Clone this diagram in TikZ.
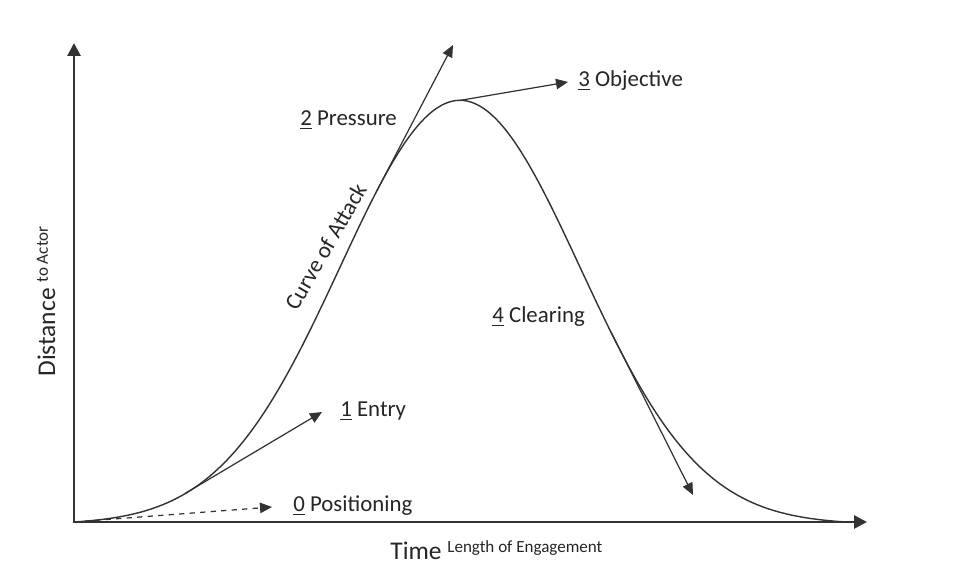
\documentclass[tikz,border=0pt]{standalone}
\usepackage{fontspec}
\setmainfont{Carlito}
\usetikzlibrary{arrows.meta}
\begin{document}
\begin{tikzpicture}[x=0.02cm,y=-0.02cm,
  axis/.style={line width=1.6pt, draw=black!80, {Triangle[length=2.6mm,width=2.6mm]}-{Triangle[length=2.6mm,width=2.6mm]}},
  tang/.style={line width=0.7pt, draw=black!80, -{Triangle[length=2.4mm,width=2.1mm]}},
  dtang/.style={tang, dashed},
  curve/.style={line width=0.8pt, draw=black!80},
  lbl/.style={inner sep=0pt, anchor=base west, font=\fontsize{13}{15}\selectfont, text=black!85},
  axlbl/.style={inner sep=0pt, anchor=base west, font=\fontsize{14.5}{17}\selectfont, text=black!85},
  small/.style={}
]
\useasboundingbox (0,0) rectangle (975,574);
\fill[white] (0,0) rectangle (975,574);
% axes
\coordinate (O) at (74,522);
\coordinate (ytip) at (74,43);
\coordinate (xtip) at (867,522);
\draw[axis] (ytip) -- (O) -- (xtip);
% curve of attack
\draw[curve] plot[domain=74:850, samples=240, smooth] (\x, {522-424*exp(-0.5*((\x-460)/120)^2)+2.4});
% points on curve
\coordinate (E0) at (185,493.5);
\coordinate (P0) at (377,190.6);
\coordinate (T0) at (460,100.4);
\coordinate (C0) at (611,332);
% tips
\coordinate (Postip) at (272,507);
\coordinate (Etip) at (322,412);
\coordinate (Ptip) at (453,45);
\coordinate (Otip) at (568,82);
\coordinate (Ctip) at (693,495);
% arrows
\draw[dtang] (O) -- (Postip);
\draw[tang] (E0) -- (Etip);
\draw[tang] (P0) -- (Ptip);
\draw[tang] (T0) -- (Otip);
\draw[tang] (C0) -- (Ctip);
% labels
\node[lbl] (l0) at (293,512) {\underline{0} Positioning};
\node[lbl] (l1) at (340,417) {\underline{1} Entry};
\node[lbl] (l2) at (300,126) {\underline{2} Pressure};
\node[lbl] (l3) at (578,87) {\underline{3} Objective};
\node[lbl] (l4) at (492,323) {\underline{4} Clearing};
\node[lbl, rotate=60] (coa) at (297,312) {Curve of Attack};
\node[axlbl] (time) at (390,560) {Time \raisebox{4.5pt}{\fontsize{9.7}{11}\selectfont Length of Engagement}};
\node[axlbl, rotate=90] (dist) at (55,377) {Distance \raisebox{4pt}{\fontsize{9.7}{11}\selectfont to Actor}};
\end{tikzpicture}
\end{document}
